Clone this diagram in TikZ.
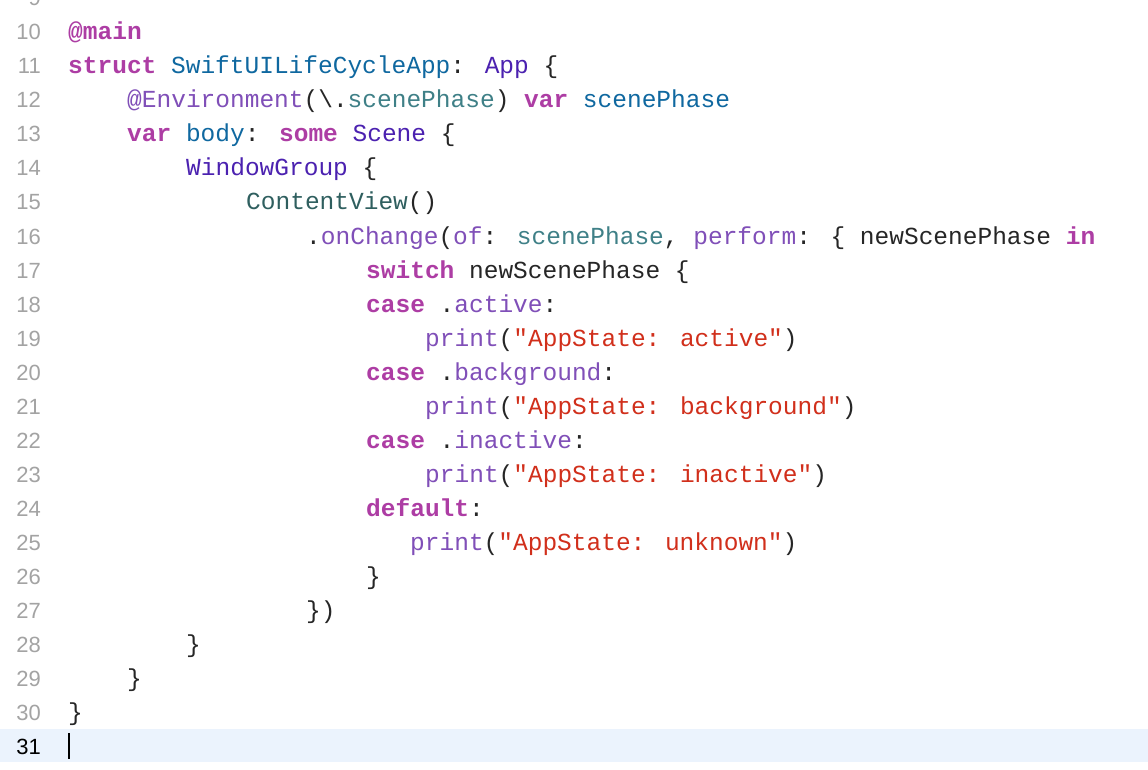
\documentclass[tikz,border=0pt]{standalone}
\usepackage{fontspec}
\setmainfont{Liberation Sans}
\newfontfamily\code{Liberation Mono}
\definecolor{kw}{HTML}{AD3DA4}
\definecolor{decl}{HTML}{0F68A0}
\definecolor{typ}{HTML}{4B21B0}
\definecolor{fn}{HTML}{804FB8}
\definecolor{var}{HTML}{3F8087}
\definecolor{proj}{HTML}{2F5F5F}
\definecolor{str}{HTML}{D12F1B}
\definecolor{txt}{HTML}{262626}
\definecolor{lnum}{HTML}{A3A3A3}
\definecolor{hl}{HTML}{EBF3FD}
\newcommand\K[1]{\textcolor{kw}{\bfseries #1}}
\newcommand\D[1]{\textcolor{decl}{#1}}
\newcommand\T[1]{\textcolor{typ}{#1}}
\newcommand\F[1]{\textcolor{fn}{#1}}
\newcommand\V[1]{\textcolor{var}{#1}}
\newcommand\PJ[1]{\textcolor{proj}{#1}}
\newcommand\Str[1]{\textcolor{str}{#1}}
\begin{document}
\begin{tikzpicture}[x=1pt,y=-1pt,
  codeline/.style={anchor=base west,inner sep=0pt,font=\code\fontsize{24.5}{25}\selectfont,text=txt},
  numline/.style={anchor=base east,inner sep=0pt,font=\fontsize{22}{22}\selectfont,text=lnum}]
\useasboundingbox[fill=white] (0,0) rectangle (1148,770);
\fill[hl] (0,729) rectangle (1148,762);
\node[numline] (n9) at (41,6) {9};
\foreach \n in {10,...,30}{
  \node[numline] (n\n) at (41,{40+(\n-10)*34}) {\n};
}
\node[numline,text=black] (n31) at (41,754) {31};
\node[codeline] (l10) at (68,40) {\K{@main}};
\node[codeline] (l11) at (68,74) {\K{struct} \D{SwiftUILifeCycleApp}: \T{App} \{};
\node[codeline] (l12) at (127,108) {\F{@Environment}(\textbackslash.\V{scenePhase}) \K{var} \D{scenePhase}};
\node[codeline] (l13) at (127,142) {\K{var} \D{body}: \K{some} \T{Scene} \{};
\node[codeline] (l14) at (186,176) {\T{WindowGroup} \{};
\node[codeline] (l15) at (246,210) {\PJ{ContentView}()};
\node[codeline] (l16) at (306,244) {.\F{onChange}(\F{of}: \V{scenePhase}, \F{perform}: \{ newScenePhase \K{in}};
\node[codeline] (l17) at (366,278) {\K{switch} newScenePhase \{};
\node[codeline] (l18) at (366,312) {\K{case} .\F{active}:};
\node[codeline] (l19) at (425,346) {\F{print}(\Str{"AppState: active"})};
\node[codeline] (l20) at (366,380) {\K{case} .\F{background}:};
\node[codeline] (l21) at (425,414) {\F{print}(\Str{"AppState: background"})};
\node[codeline] (l22) at (366,448) {\K{case} .\F{inactive}:};
\node[codeline] (l23) at (425,482) {\F{print}(\Str{"AppState: inactive"})};
\node[codeline] (l24) at (366,516) {\K{default}:};
\node[codeline] (l25) at (410,550) {\F{print}(\Str{"AppState: unknown"})};
\node[codeline] (l26) at (366,584) {\}};
\node[codeline] (l27) at (306,618) {\})};
\node[codeline] (l28) at (186,652) {\}};
\node[codeline] (l29) at (127,686) {\}};
\node[codeline] (l30) at (68,720) {\}};
\draw[line width=1.8pt,black] (69,733) -- (69,759);
\end{tikzpicture}
\end{document}
